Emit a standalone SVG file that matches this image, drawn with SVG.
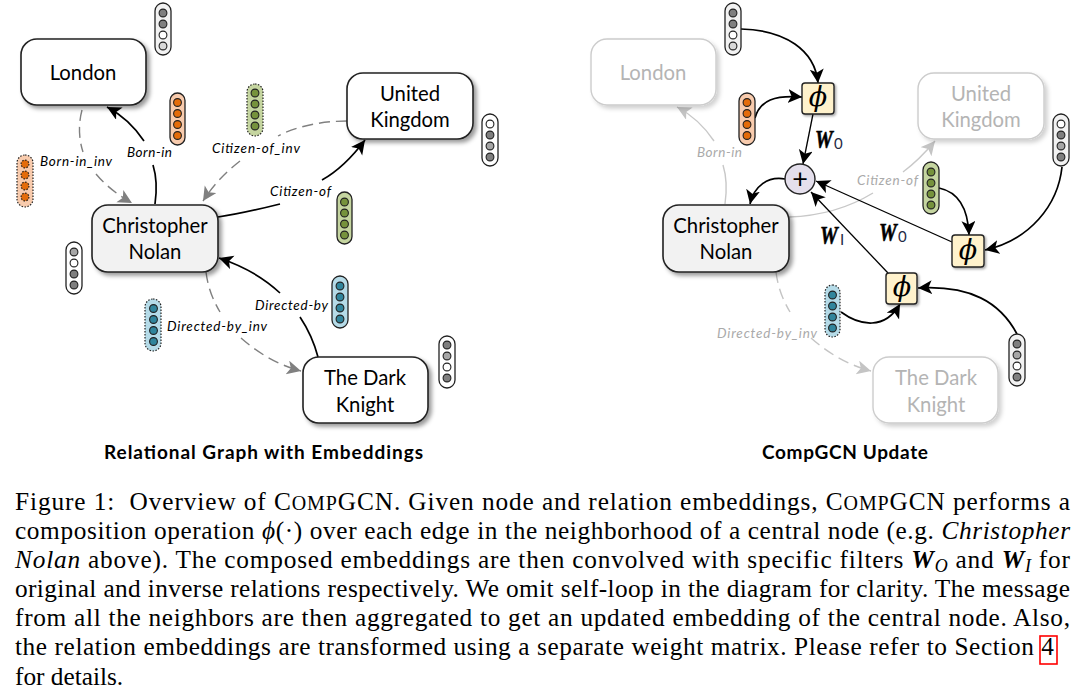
<svg xmlns="http://www.w3.org/2000/svg" width="1079" height="690" viewBox="0 0 1079 690">
<style>
text{font-family:"Lato","Open Sans",sans-serif;fill:#000}
.n{fill:#fff;stroke:#222;stroke-width:1.6;filter:url(#sh)}
.c{fill:#f2f2f2}
.f{fill:#fff;stroke:#ccc;stroke-width:1.4;filter:url(#shl)}
.nt{font-size:20.3px;text-anchor:middle}
.ft{font-size:20.3px;text-anchor:middle;fill:#b4b4b4}
.l{font-size:13.5px;font-style:italic}
.lf{font-size:13.5px;font-style:italic;fill:#aaa}
.title{font-size:19px;font-weight:700}
.s{fill:none;stroke:#000;stroke-width:1.7}
.a{marker-end:url(#ah)}
.t{fill:none;stroke:#000;stroke-width:1.3;marker-end:url(#ah)}
.d{fill:none;stroke:#808080;stroke-width:1.4;stroke-dasharray:11 6}
.da{marker-end:url(#ag)}
.g{fill:none;stroke:#c8c8c8;stroke-width:1.4}
.ga{marker-end:url(#agl)}
.gd{fill:none;stroke:#c4c4c4;stroke-width:1.4;stroke-dasharray:11 6}
.gda{marker-end:url(#agl)}
.p{stroke:#222;stroke-width:1.3}
.pd{stroke:#222;stroke-width:1.2;stroke-dasharray:1.5 1.5}
.w{fill:#f2f2f2}.wb{fill:#fff}
.o{fill:#f8cbad}.go{fill:#c5d5a0}.b{fill:#b5dbe8}
circle{stroke:#222;stroke-width:1.1}
.c1{fill:#7f7f7f}.c2{fill:#a6a6a6}.c3{fill:#fff}.c4{fill:#d9d9d9}
.co{fill:#e46c0a}.cg{fill:#76923c}.cb{fill:#31859c}
.phi{fill:#fff2cc;stroke:#222;stroke-width:1.4;filter:url(#shs)}
.pt{font-family:"DejaVu Serif",serif;font-style:italic;font-size:27px;text-anchor:middle}
.W{font-family:"Liberation Serif",serif;font-style:italic;font-weight:700;font-size:25px;stroke:#000;stroke-width:.6}
.sub{font-size:15px;fill:#1f2a44}
.plus{font-size:27px;text-anchor:middle}
.cap text{font-family:"Liberation Serif",serif;font-size:25.3px;white-space:pre}
.cap .sc{font-size:20px}
.cap .i{font-style:italic}
.cap .bi{font-style:italic;font-weight:700}
.cap .su{font-style:italic;font-size:18px}
</style>
<defs>
<filter id="sh" x="-15%" y="-15%" width="135%" height="140%"><feDropShadow dx="3" dy="3" stdDeviation="2" flood-color="#000" flood-opacity=".4"/></filter>
<filter id="shl" x="-15%" y="-15%" width="135%" height="140%"><feDropShadow dx="3" dy="3" stdDeviation="2" flood-color="#000" flood-opacity=".18"/></filter>
<filter id="shs" x="-20%" y="-20%" width="145%" height="145%"><feDropShadow dx="1.5" dy="1.5" stdDeviation="1" flood-color="#000" flood-opacity=".35"/></filter>
<marker id="ah" markerUnits="userSpaceOnUse" markerWidth="18" markerHeight="16" refX="14" refY="7" orient="auto"><path d="M0,0L14,7L0,14L3.5,7Z" fill="#000"/></marker>
<marker id="ag" markerUnits="userSpaceOnUse" markerWidth="18" markerHeight="16" refX="14" refY="7" orient="auto"><path d="M0,0L14,7L0,14L3.5,7Z" fill="#808080"/></marker>
<marker id="agl" markerUnits="userSpaceOnUse" markerWidth="18" markerHeight="16" refX="14" refY="7" orient="auto"><path d="M0,0L14,7L0,14L3.5,7Z" fill="#c4c4c4"/></marker>
</defs>

<g id="connectors">
<path class="s" d="M155,204C157,190 157,178 153,165"/>
<path class="s a" d="M144,141C134,126 122,115 107,107"/>
<path class="d" d="M82,110C78,125 79,140 83,152"/>
<path class="d da" d="M96,174C106,186 118,195 132,203"/>
<path class="d" d="M347,121C320,121 295,127 278,136"/>
<path class="d da" d="M240,161C226,172 214,184 203,201"/>
<path class="s" d="M218,217C240,214 260,209 280,204"/>
<path class="s a" d="M322,180C340,170 353,156 365,140"/>
<path class="s" d="M318,357C314,342 308,329 300,317"/>
<path class="s a" d="M280,293C263,277 243,266 219,258"/>
<path class="d" d="M206,272C208,288 213,300 220,312"/>
<path class="d da" d="M241,338C258,353 278,365 301,371"/>

<path class="g" d="M725,204C727,190 727,178 723,165"/>
<path class="g ga" d="M714,141C704,126 692,115 677,107"/>
<path class="g" d="M789,217C820,216 850,207 873,193"/>
<path class="g ga" d="M903,172C915,163 925,153 935,141"/>
<path class="gd" d="M776,272C778,288 783,300 790,312"/>
<path class="gd gda" d="M811,338C828,353 848,365 871,371"/>

<path class="s a" d="M741,29C785,30 815,50 818,83"/>
<path class="s a" d="M755,118C760,100 775,95 802,97"/>
<path class="t" d="M813,114L803,164"/>
<path class="s a" d="M785,179C768,176 754,186 750,204"/>
<path class="t" d="M952,242L816,181"/>
<path class="t" d="M888,273L811,192"/>
<path class="s a" d="M939,188C958,192 968,208 969,235"/>
<path class="s a" d="M1062,167C1058,205 1030,240 985,250"/>
<path class="s a" d="M841,312C860,326 885,330 900,304"/>
<path class="s a" d="M1017,334C1000,302 970,285 918,288"/>
</g>

<g id="london"><rect class="n" x="21" y="39" width="125" height="66" rx="16"/><text class="nt" x="83" y="79.500">London</text></g>
<g id="uk"><rect class="n" x="347" y="73" width="126" height="66" rx="16"/><text class="nt" x="410" y="100.500">United</text><text class="nt" x="410" y="126.500">Kingdom</text></g>
<g id="nolan"><rect class="n c" x="92" y="205" width="126" height="67" rx="16"/><text class="nt" x="155" y="232.500">Christopher</text><text class="nt" x="155" y="258.500">Nolan</text></g>
<g id="knight"><rect class="n" x="303" y="357" width="125" height="66" rx="16"/><text class="nt" x="365" y="384.500">The Dark</text><text class="nt" x="365" y="411.500">Knight</text></g>

<g id="london2"><rect class="f" x="591" y="39" width="125" height="66" rx="16"/><text class="ft" x="653" y="79.500">London</text></g>
<g id="uk2"><rect class="f" x="918" y="73" width="126" height="66" rx="16"/><text class="ft" x="981" y="100.500">United</text><text class="ft" x="981" y="126.500">Kingdom</text></g>
<g id="nolan2"><rect class="n c" x="663" y="205" width="126" height="67" rx="16"/><text class="nt" x="726" y="232.500">Christopher</text><text class="nt" x="726" y="258.500">Nolan</text></g>
<g id="knight2"><rect class="f" x="873" y="357" width="125" height="66" rx="16"/><text class="ft" x="936" y="384.500">The Dark</text><text class="ft" x="936" y="411.500">Knight</text></g>

<g id="labels-left">
<text class="l" x="40" y="166" textLength="72">Born-in_inv</text>
<text class="l" x="127" y="157" textLength="45">Born-in</text>
<text class="l" x="212" y="153" textLength="88">Citizen-of_inv</text>
<text class="l" x="270" y="196" textLength="61">Citizen-of</text>
<text class="l" x="255" y="310" textLength="73">Directed-by</text>
<text class="l" x="167" y="331" textLength="100">Directed-by_inv</text>
</g>
<g id="labels-right">
<text class="lf" x="697" y="157" textLength="45">Born-in</text>
<text class="lf" x="857" y="185" textLength="61">Citizen-of</text>
<text class="lf" x="717" y="338" textLength="100">Directed-by_inv</text>
</g>

<g id="emb1"><rect class="p w" x="155" y="3" width="16" height="52" rx="8"/><circle class="c1" cx="163" cy="13" r="3.9"/><circle class="c1" cx="163" cy="24" r="3.9"/><circle class="c3" cx="163" cy="35" r="3.9"/><circle class="c4" cx="163" cy="46" r="3.9"/></g>
<g id="emb2"><rect class="p o" x="170" y="93" width="15" height="52" rx="7.5"/><circle class="co" cx="177.5" cy="102.5" r="3.9"/><circle class="co" cx="177.5" cy="113.5" r="3.9"/><circle class="co" cx="177.5" cy="124.5" r="3.9"/><circle class="co" cx="177.5" cy="135.5" r="3.9"/></g>
<g id="emb3"><rect class="pd go" x="247" y="84" width="16" height="52" rx="8"/><circle class="cg" cx="255" cy="93" r="3.9"/><circle class="cg" cx="255" cy="104" r="3.9"/><circle class="cg" cx="255" cy="115" r="3.9"/><circle class="cg" cx="255" cy="126" r="3.9"/></g>
<g id="emb4"><rect class="pd o" x="17" y="155" width="16" height="52" rx="8"/><circle class="co pd" cx="25" cy="164" r="3.9"/><circle class="co pd" cx="25" cy="175" r="3.9"/><circle class="co pd" cx="25" cy="186" r="3.9"/><circle class="co pd" cx="25" cy="197" r="3.9"/></g>
<g id="emb5"><rect class="p wb" x="482" y="114" width="16" height="52" rx="8"/><circle class="c3" cx="490" cy="124" r="3.9"/><circle class="c1" cx="490" cy="135" r="3.9"/><circle class="c2" cx="490" cy="146" r="3.9"/><circle class="c1" cx="490" cy="157" r="3.9"/></g>
<g id="emb6"><rect class="p go" x="337" y="192" width="15" height="52" rx="7.5"/><circle class="cg" cx="344.500" cy="202" r="3.9"/><circle class="cg" cx="344.500" cy="213" r="3.9"/><circle class="cg" cx="344.500" cy="224" r="3.9"/><circle class="cg" cx="344.500" cy="235" r="3.9"/></g>
<g id="emb7"><rect class="p wb" x="66" y="242" width="16" height="52" rx="8"/><circle class="c2" cx="74" cy="252" r="3.9"/><circle class="c3" cx="74" cy="263" r="3.9"/><circle class="c1" cx="74" cy="274" r="3.9"/><circle class="c1" cx="74" cy="285" r="3.9"/></g>
<g id="emb8"><rect class="p b" x="332" y="276" width="16" height="52" rx="8"/><circle class="cb" cx="340" cy="286" r="3.9"/><circle class="cb" cx="340" cy="297" r="3.9"/><circle class="cb" cx="340" cy="308" r="3.9"/><circle class="cb" cx="340" cy="319" r="3.9"/></g>
<g id="emb9"><rect class="pd b" x="145" y="299" width="16" height="52" rx="8"/><circle class="cb" cx="153.500" cy="308.500" r="3.9"/><circle class="cb" cx="153.500" cy="319.500" r="3.9"/><circle class="cb" cx="153.500" cy="330.500" r="3.9"/><circle class="cb" cx="153.500" cy="341.500" r="3.9"/></g>
<g id="emb10"><rect class="p wb" x="439" y="336" width="16" height="52" rx="8"/><circle class="c1" cx="447" cy="345" r="3.9"/><circle class="c2" cx="447" cy="356" r="3.9"/><circle class="c3" cx="447" cy="367" r="3.9"/><circle class="c1" cx="447" cy="378" r="3.9"/></g>

<g id="emb11"><rect class="p w" x="725" y="3" width="16" height="52" rx="8"/><circle class="c1" cx="733" cy="13" r="3.9"/><circle class="c1" cx="733" cy="24" r="3.9"/><circle class="c3" cx="733" cy="35" r="3.9"/><circle class="c4" cx="733" cy="46" r="3.9"/></g>
<g id="emb12"><rect class="p o" x="739" y="93" width="16" height="52" rx="8"/><circle class="co" cx="747" cy="102.500" r="3.9"/><circle class="co" cx="747" cy="113.500" r="3.9"/><circle class="co" cx="747" cy="124.500" r="3.9"/><circle class="co" cx="747" cy="135.500" r="3.9"/></g>
<g id="emb13"><rect class="p go" x="923" y="162" width="16" height="52" rx="8"/><circle class="cg" cx="931" cy="172" r="3.9"/><circle class="cg" cx="931" cy="183" r="3.9"/><circle class="cg" cx="931" cy="194" r="3.9"/><circle class="cg" cx="931" cy="205" r="3.9"/></g>
<g id="emb14"><rect class="p w" x="1053" y="114" width="16" height="52" rx="8"/><circle class="c3" cx="1061" cy="124" r="3.9"/><circle class="c1" cx="1061" cy="135" r="3.9"/><circle class="c2" cx="1061" cy="146" r="3.9"/><circle class="c1" cx="1061" cy="157" r="3.9"/></g>
<g id="emb15"><rect class="pd b" x="825" y="285" width="15" height="52" rx="7.500"/><circle class="cb" cx="832.500" cy="295" r="3.9"/><circle class="cb" cx="832.500" cy="306" r="3.9"/><circle class="cb" cx="832.500" cy="317" r="3.9"/><circle class="cb" cx="832.500" cy="328" r="3.9"/></g>
<g id="emb16"><rect class="p w" x="1009" y="334" width="16" height="52" rx="8"/><circle class="c1" cx="1017" cy="344" r="3.9"/><circle class="c2" cx="1017" cy="355" r="3.9"/><circle class="c3" cx="1017" cy="366" r="3.9"/><circle class="c1" cx="1017" cy="377" r="3.9"/></g>

<g id="phi1"><rect class="phi" x="802" y="83" width="32" height="31" rx="3"/><text class="pt" x="818" y="106">ϕ</text></g>
<g id="phi2"><rect class="phi" x="952" y="235" width="32" height="32" rx="3"/><text class="pt" x="968" y="259">ϕ</text></g>
<g id="phi3"><rect class="phi" x="886" y="273" width="31" height="31" rx="3"/><text class="pt" x="902" y="296">ϕ</text></g>
<g id="plus"><circle cx="800" cy="179" r="15" style="fill:#e4dfec;stroke-width:1.4"/><text class="plus" x="800" y="188">+</text></g>

<g id="weights">
<text class="W" transform="translate(815 148) scale(.8 1)">W</text><text class="sub" x="834" y="149">0</text>
<text class="W" transform="translate(820 244) scale(.8 1)">W</text><text class="sub" x="840" y="245">I</text>
<text class="W" transform="translate(879 241) scale(.8 1)">W</text><text class="sub" x="898" y="242">0</text>
</g>

<text class="title" x="104" y="459" textLength="319">Relational Graph with Embeddings</text>
<text class="title" x="762" y="459" textLength="166">CompGCN Update</text>

<g id="caption" class="cap">
<text x="15" y="510" textLength="1055">Figure 1:  Overview of C<tspan class="sc">OMP</tspan>GCN. Given node and relation embeddings, C<tspan class="sc">OMP</tspan>GCN performs a</text>
<text x="15" y="539" textLength="1055">composition operation <tspan class="i">ϕ</tspan>(·) over each edge in the neighborhood of a central node (e.g. <tspan class="i">Christopher</tspan></text>
<text x="15" y="568" textLength="1055"><tspan class="i">Nolan</tspan> above). The composed embeddings are then convolved with specific filters <tspan class="bi">W</tspan><tspan class="su" dy="4">O</tspan><tspan dy="-4"> and </tspan><tspan class="bi">W</tspan><tspan class="su" dy="4">I</tspan><tspan dy="-4"> for</tspan></text>
<text x="15" y="597" textLength="1055">original and inverse relations respectively. We omit self-loop in the diagram for clarity. The message</text>
<text x="15" y="626" textLength="1055">from all the neighbors are then aggregated to get an updated embedding of the central node. Also,</text>
<text x="15" y="655" textLength="1039">the relation embeddings are transformed using a separate weight matrix. Please refer to Section 4</text>
<text x="15" y="685">for details.</text>
<rect x="1040" y="636" width="17" height="28" fill="none" stroke="#f00" stroke-width="1.6"/>
</g>
</svg>
